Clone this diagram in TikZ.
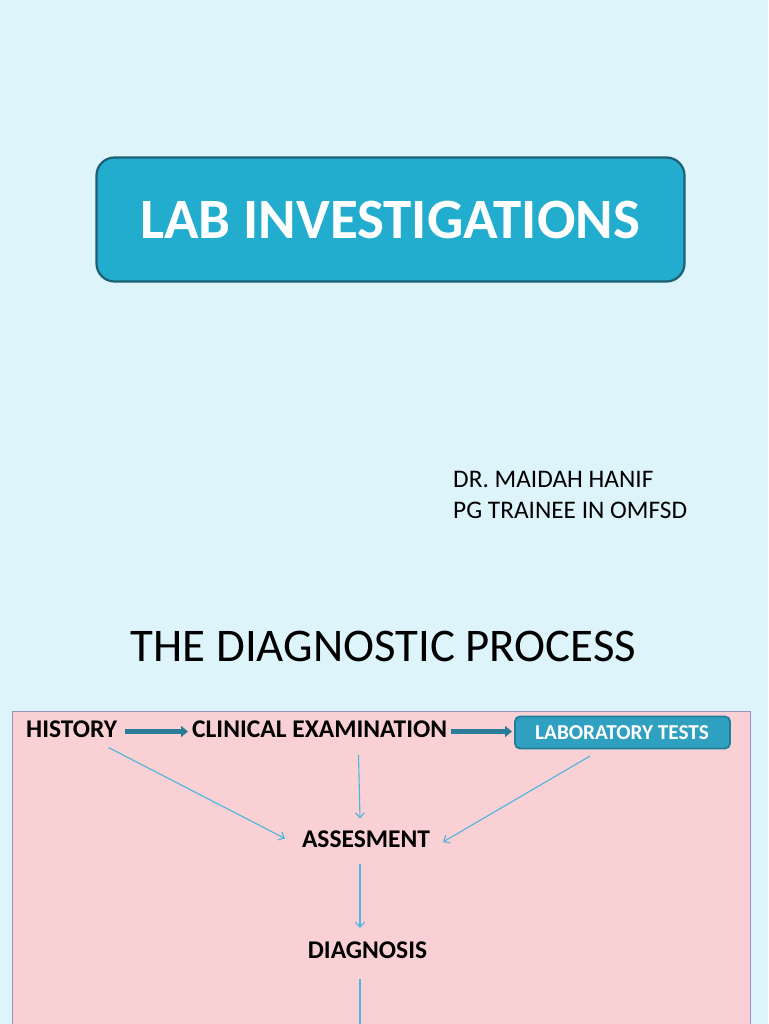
\documentclass[tikz,border=0pt]{standalone}
\usepackage{fontspec}
\setmainfont{Carlito}
\usetikzlibrary{arrows.meta}
\definecolor{bgc}{HTML}{DDF4FA}
\definecolor{titlefill}{HTML}{22ADCF}
\definecolor{titledraw}{HTML}{1D5F73}
\definecolor{pinkc}{HTML}{F9D0D3}
\definecolor{pinkdraw}{HTML}{9A8FC0}
\definecolor{thickc}{HTML}{2B7C98}
\definecolor{thinc}{HTML}{4BB5DE}
\definecolor{labfill}{HTML}{2FA0C0}
\definecolor{labdraw}{HTML}{1F7D98}
\tikzset{
  stepword/.style={font=\fontsize{25.5}{28}\selectfont\bfseries, text=black, inner sep=0pt, anchor=base},
  thickarrow/.style={draw=thickc, line width=4.5pt, -{Triangle[length=7pt,width=11pt]}},
  thinarrow/.style={draw=thinc, line width=1.1pt, -{Straight Barb[length=5pt,width=9pt]}},
}
\begin{document}
\begin{tikzpicture}[x=1pt,y=-1pt]
\useasboundingbox (0,0) rectangle (768,1024);
\fill[bgc] (0,0) rectangle (768,1024);
% title box
\node[draw=titledraw, line width=2.2pt, fill=titlefill, rounded corners=18pt,
      minimum width=588pt, minimum height=124pt, inner sep=0pt] (titlebox) at (390.5,219.5) {};
\node[text=white, font=\fontsize{57}{60}\selectfont\bfseries, inner sep=0pt, anchor=base] (title) at (390,238) {LAB INVESTIGATIONS};
% author
\node[font=\fontsize{25.3}{28}\selectfont, anchor=base west, inner sep=0pt] (author) at (453,487.5) {DR. MAIDAH HANIF};
\node[font=\fontsize{25.3}{28}\selectfont, anchor=base west, inner sep=0pt] (trainee) at (453,518) {PG TRAINEE IN OMFSD};
% section heading
\node[font=\fontsize{46.8}{50}\selectfont, anchor=base, inner sep=0pt] (heading) at (383.5,661.5) {THE DIAGNOSTIC PROCESS};
% pink panel
\draw[pinkdraw, fill=pinkc, line width=1pt] (12,711.5) rectangle (750,1040);
% steps
\node[stepword, anchor=base west] (history) at (26,737.5) {HISTORY};
\node[stepword, anchor=base west] (clinical) at (192,737.5) {CLINICAL EXAMINATION};
\node[draw=labdraw, line width=1.8pt, fill=labfill, rounded corners=5pt,
      minimum width=215pt, minimum height=32pt, inner sep=0pt] (labbox) at (622.5,732.5) {};
\node[text=white, font=\fontsize{21.2}{23}\selectfont\bfseries, inner sep=0pt, anchor=base] (labtext) at (622,739.5) {LABORATORY TESTS};
\node[stepword] (assess) at (366,847) {ASSESMENT};
\node[stepword] (diag) at (367.5,958.5) {DIAGNOSIS};
% arrow endpoints
\coordinate (h1) at (125,731.5);
\coordinate (h2) at (188,731.5);
\coordinate (c1) at (451,731.5);
\coordinate (c2) at (512,731.5);
\coordinate (ha1) at (108.5,747.5);
\coordinate (ha2) at (285,838.5);
\coordinate (ca1) at (358.5,755);
\coordinate (ca2) at (360,818.5);
\coordinate (la1) at (590,756);
\coordinate (la2) at (443,842);
\coordinate (ad1) at (360,864);
\coordinate (ad2) at (360,928);
\coordinate (dn1) at (360,979);
\coordinate (dn2) at (360,1040);
\draw[thickarrow] (h1) -- (h2);
\draw[thickarrow] (c1) -- (c2);
\draw[thinarrow] (ha1) -- (ha2);
\draw[thinarrow] (ca1) -- (ca2);
\draw[thinarrow] (la1) -- (la2);
\draw[thinarrow] (ad1) -- (ad2);
\draw[draw=thinc, line width=1.1pt] (dn1) -- (dn2);
\end{tikzpicture}
\end{document}
